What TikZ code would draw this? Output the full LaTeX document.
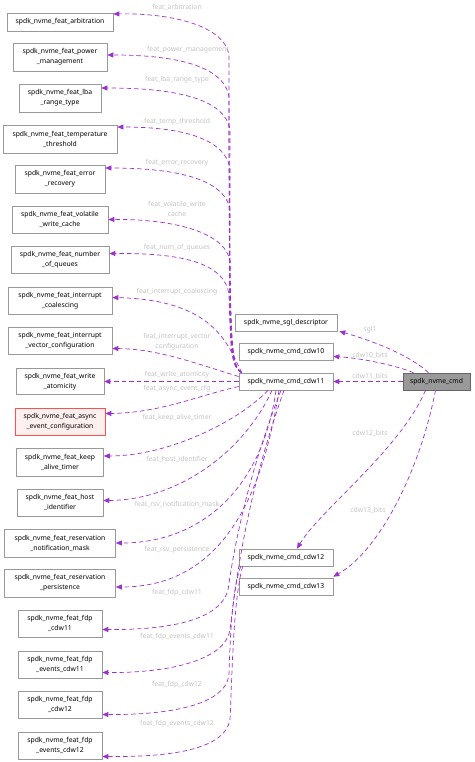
\documentclass[tikz,border=0pt]{standalone}
\usepackage{fontspec}
\setmainfont{Noto Sans}
\usetikzlibrary{arrows.meta}
\definecolor{edgec}{HTML}{9A32CD}
\definecolor{boxc}{HTML}{999999}
\definecolor{labc}{HTML}{C4C4C4}
\definecolor{redb}{HTML}{FF5050}
\definecolor{redf}{HTML}{FFF0F0}
\definecolor{cmdf}{HTML}{999999}
\definecolor{cmdb}{HTML}{666666}
\begin{document}
\begin{tikzpicture}[x=1pt,y=-1pt,
  box/.style={draw=boxc, fill=white, inner sep=0pt, align=center, line width=0.6pt,
    font=\fontsize{6.8}{10}\selectfont},
  lab/.style={text=labc, inner sep=0pt, align=center, font=\fontsize{6.8}{10}\selectfont},
  memb/.style={edgec, dash pattern=on 4.5pt off 3pt, line width=0.7pt,
    -{Triangle[length=6pt,width=5pt]}}]
\fill[white] (0,0) rectangle (474,762);
\useasboundingbox (0,0) rectangle (474,762);

% left column
\node[box, minimum width=106pt, minimum height=18pt] (arb) at (60,22) {spdk\_nvme\_feat\_arbitration};
\node[box, minimum width=94pt, minimum height=28pt] (pow) at (60,57) {spdk\_nvme\_feat\_power\\\_management};
\node[box, minimum width=82pt, minimum height=28pt] (lba) at (60,98) {spdk\_nvme\_feat\_lba\\\_range\_type};
\node[box, minimum width=114pt, minimum height=28pt] (tmp) at (60,139) {spdk\_nvme\_feat\_temperature\\\_threshold};
\node[box, minimum width=90pt, minimum height=28pt] (err) at (60,179) {spdk\_nvme\_feat\_error\\\_recovery};
\node[box, minimum width=96pt, minimum height=27pt] (vwc) at (60,219.5) {spdk\_nvme\_feat\_volatile\\\_write\_cache};
\node[box, minimum width=98pt, minimum height=27pt] (noq) at (60,259.5) {spdk\_nvme\_feat\_number\\\_of\_queues};
\node[box, minimum width=104pt, minimum height=27pt] (ic) at (60,300.5) {spdk\_nvme\_feat\_interrupt\\\_coalescing};
\node[box, minimum width=104pt, minimum height=27pt] (ivc) at (60,340.5) {spdk\_nvme\_feat\_interrupt\\\_vector\_configuration};
\node[box, minimum width=88pt, minimum height=26pt] (wa) at (60,381.5) {spdk\_nvme\_feat\_write\\\_atomicity};
\node[box, draw=redb, fill=redf, minimum width=90pt, minimum height=27pt] (aec) at (60,421.5) {spdk\_nvme\_feat\_async\\\_event\_configuration};
\node[box, minimum width=87pt, minimum height=28pt] (kat) at (60,462) {spdk\_nvme\_feat\_keep\\\_alive\_timer};
\node[box, minimum width=86pt, minimum height=27pt] (hid) at (60,502.5) {spdk\_nvme\_feat\_host\\\_identifier};
\node[box, minimum width=111pt, minimum height=28pt] (rnm) at (60,543) {spdk\_nvme\_feat\_reservation\\\_notification\_mask};
\node[box, minimum width=111pt, minimum height=28pt] (rp) at (60,583) {spdk\_nvme\_feat\_reservation\\\_persistence};
\node[box, minimum width=84pt, minimum height=27pt] (f11) at (60,623.5) {spdk\_nvme\_feat\_fdp\\\_cdw11};
\node[box, minimum width=84pt, minimum height=27pt] (fe11) at (60,664.5) {spdk\_nvme\_feat\_fdp\\\_events\_cdw11};
\node[box, minimum width=84pt, minimum height=27pt] (f12) at (60,704.5) {spdk\_nvme\_feat\_fdp\\\_cdw12};
\node[box, minimum width=84pt, minimum height=27pt] (fe12) at (60,745.5) {spdk\_nvme\_feat\_fdp\\\_events\_cdw12};

% right nodes
\node[box, minimum width=102pt, minimum height=17pt] (sgl) at (286,322.5) {spdk\_nvme\_sgl\_descriptor};
\node[box, minimum width=94pt, minimum height=17pt] (c10) at (286,351.5) {spdk\_nvme\_cmd\_cdw10};
\node[box, minimum width=94pt, minimum height=17pt] (c11) at (286,381.5) {spdk\_nvme\_cmd\_cdw11};
\node[box, draw=cmdb, fill=cmdf, minimum width=67pt, minimum height=17pt] (cmd) at (436.5,381.5) {spdk\_nvme\_cmd};
\node[box, minimum width=94pt, minimum height=17pt] (c12) at (286,557.5) {spdk\_nvme\_cmd\_cdw12};
\node[box, minimum width=94pt, minimum height=17pt] (c13) at (286,586.5) {spdk\_nvme\_cmd\_cdw13};

% edges from spdk_nvme_cmd
\draw[memb] ([xshift=-8pt]cmd.north) .. controls (410,355) and (370,340) .. ([xshift=2pt]sgl.south east);
\draw[memb] ([xshift=-23pt]cmd.north) .. controls (395,365) and (360,358) .. ([yshift=-5pt]c10.east);
\draw[memb] (cmd.west) -- (c11.east);
\draw[memb] ([xshift=-11pt]cmd.south) .. controls (400,450) and (320,510) .. ([xshift=11pt]c12.north);
\draw[memb] ([xshift=-1pt]cmd.south) .. controls (420,470) and (380,550) .. ([yshift=1pt]c13.north east);

\node[lab] (lsgl) at (370,330) {sgl1};
\node[lab] (l10) at (370,355) {cdw10\_bits};
\node[lab] (l11) at (370,376) {cdw11\_bits};
\node[lab] (l12) at (370,433) {cdw12\_bits};
\node[lab] (l13) at (368,510) {cdw13\_bits};

% upper edges from cdw11
\draw[memb] ([xshift=3pt]c11.north west) .. controls (231,366) and (229,355) .. (229,55) .. controls (224,25) and (170,13) .. ([yshift=8pt]arb.east);
\draw[memb] ([xshift=3pt]c11.north west) .. controls (231,366) and (229,355) .. (229,97) .. controls (224,64) and (170,55) .. ([yshift=2pt]pow.east);
\draw[memb] ([xshift=3pt]c11.north west) .. controls (231,366) and (229,355) .. (230,130) .. controls (225,97) and (170,88) .. ([yshift=10pt]lba.east);
\draw[memb] ([xshift=3pt]c11.north west) .. controls (231,366) and (229,355) .. (230,169) .. controls (225,136) and (175,127) .. ([yshift=12pt]tmp.east);
\draw[memb] ([xshift=3pt]c11.north west) .. controls (231,366) and (229,355) .. (230,210) .. controls (225,177) and (170,168) .. ([yshift=11pt]err.east);
\draw[memb] ([xshift=3pt]c11.north west) .. controls (231,366) and (229,355) .. (230,261) .. controls (225,231) and (170,219) .. (vwc.east);
\draw[memb] ([xshift=3pt]c11.north west) .. controls (231,366) and (230,330) .. (229,295) .. controls (225,262) and (180,253) .. ([yshift=6pt]noq.east);
\draw[memb] ([xshift=3pt]c11.north west) .. controls (228,345) and (215,300) .. ([yshift=3pt]ic.east);
\draw[memb] ([yshift=5pt]c11.west) .. controls (200,365) and (160,349) .. ([yshift=-8pt]ivc.east);
\draw[memb] (c11.west) -- (wa.east);
\draw[memb] ([yshift=-5pt]c11.west) .. controls (200,395) and (160,413) .. ([yshift=8pt]aec.east);

% lower edges from cdw11
\draw[memb] ([xshift=-18pt]c11.south) .. controls (240,420) and (170,456) .. ([yshift=6pt]kat.east);
\draw[memb] ([xshift=-14pt]c11.south) .. controls (245,450) and (180,500) .. ([yshift=2pt]hid.east);
\draw[memb] ([xshift=-10pt]c11.south) .. controls (262,490) and (200,543) .. (rnm.east);
\draw[memb] ([xshift=-7pt]c11.south) .. controls (262,500) and (220,587) .. ([yshift=-4pt]rp.east);
\draw[memb] ([xshift=-5pt]c11.south) .. controls (250,470) and (235,540) .. (228,590) .. controls (220,620) and (170,630) .. ([yshift=-6pt]f11.east);
\draw[memb] ([xshift=-2pt]c11.south) .. controls (252,480) and (238,560) .. (230,630) .. controls (225,660) and (170,673) .. ([yshift=-8pt]fe11.east);

% edges from cdw12
\draw[memb] ([xshift=2pt]c12.south west) .. controls (232,590) and (230,640) .. (229,675) .. controls (225,705) and (170,715) .. ([yshift=-10pt]f12.east);
\draw[memb] ([xshift=4pt]c12.south west) .. controls (233,600) and (232,680) .. (230,720) .. controls (224,750) and (170,757) .. ([yshift=-11pt]fe12.east);

% edge labels
\node[lab] (la1) at (177,7) {feat\_arbitration};
\node[lab] (la2) at (188,50) {feat\_power\_management};
\node[lab] (la3) at (177,80) {feat\_lba\_range\_type};
\node[lab] (la4) at (177,122) {feat\_temp\_threshold};
\node[lab] (la5) at (177,163) {feat\_error\_recovery};
\node[lab] (la6) at (177,209) {feat\_volatile\_write\\cache};
\node[lab] (la7) at (177,248) {feat\_num\_of\_queues};
\node[lab] (la8) at (177,292) {feat\_interrupt\_coalescing};
\node[lab] (la9) at (177,342) {feat\_interrupt\_vector\\configuration};
\node[lab] (la10) at (177,375) {feat\_write\_atomicity};
\node[lab] (la11) at (177,389) {feat\_async\_event\_cfg};
\node[lab] (la12) at (177,418) {feat\_keep\_alive\_timer};
\node[lab] (la13) at (177,459) {feat\_host\_identifier};
\node[lab] (la14) at (177,504) {feat\_rsv\_notification\_mask};
\node[lab] (la15) at (177,550) {feat\_rsv\_persistence};
\node[lab] (la16) at (177,593) {feat\_fdp\_cdw11};
\node[lab] (la17) at (177,637) {feat\_fdp\_events\_cdw11};
\node[lab] (la18) at (177,685) {feat\_fdp\_cdw12};
\node[lab] (la19) at (177,724) {feat\_fdp\_events\_cdw12};
\end{tikzpicture}
\end{document}
